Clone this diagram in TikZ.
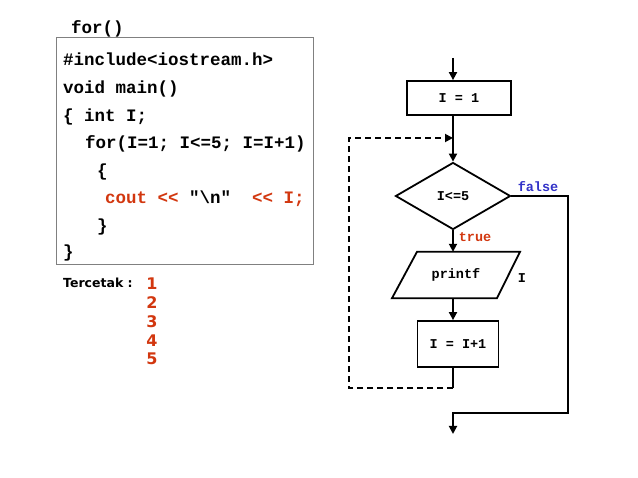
\documentclass[tikz,border=0pt]{standalone}
\usepackage{fontspec}
\setmonofont{Liberation Mono}
\newfontfamily\comicfont{DejaVu Sans}
\usetikzlibrary{shapes.geometric,arrows.meta}
\definecolor{codered}{RGB}{210,55,15}
\definecolor{codeblue}{RGB}{50,50,200}
\tikzset{
  codeline/.style={anchor=base west, inner sep=0pt, font=\ttfamily\bfseries\fontsize{17.5}{20}\selectfont},
  flowtext/.style={font=\ttfamily\bfseries\fontsize{13.5}{16}\selectfont},
  flowbox/.style={flowtext, draw, line width=1.8pt, inner sep=0pt},
  flowline/.style={line width=1.8pt},
  flowarrow/.style={flowline, -{Triangle[length=8pt,width=8pt]}},
  loopline/.style={flowline, dash pattern=on 6pt off 4pt},
  outnum/.style={color=codered, font=\comicfont\bfseries\fontsize{16}{18}\selectfont, inner sep=0pt}
}
\begin{document}
\begin{tikzpicture}[x=1pt,y=-1pt]
			%%%%% START %%%%%
			\useasboundingbox (0,0) rectangle (638,478);

			% program text
			\node[codeline] (title) at (71,34) {for()};
			\draw[line width=1pt, color=black!50] (56,38) rectangle (313,265);
			\node[codeline] (inc) at (63,66) {\#include<iostream.h>};
			\node[codeline] (mainfn) at (63,94) {void main()};
			\node[codeline] (decl) at (63,122) {\{ int I;};
			\node[codeline] (forln) at (85,149) {for(I=1; I<=5; I=I+1)};
			\node[codeline] (open) at (97,177) {\{};
			\node[codeline] (cout) at (105,204) {\textcolor{codered}{cout <<} "\textbackslash n"~~\textcolor{codered}{<< I;}};
			\node[codeline] (close) at (97,232) {\}};
			\node[codeline] (endmain) at (63,258) {\}};

			% output
			\node[anchor=west, inner sep=0pt, font=\comicfont\bfseries\fontsize{12.5}{14}\selectfont] (printed) at (63,283) {Tercetak :};
			\node[outnum] (out1) at (152,284) {1};
			\node[outnum] (out2) at (152,303) {2};
			\node[outnum] (out3) at (152,322) {3};
			\node[outnum] (out4) at (152,341) {4};
			\node[outnum] (out5) at (152,359) {5};

			% flowchart
			\coordinate (start) at (453,58);
			\node[flowbox, minimum width=104, minimum height=34] (init) at (459,98) {I = 1};
			\node[flowbox, diamond, aspect=1.7, minimum width=115, minimum height=67] (cond) at (453,196) {I<=5};
			\node[flowtext, inner sep=0pt, minimum width=104, minimum height=46] (show) at (456,275) {printf};
			\draw[flowline, line join=miter] ([xshift=-39]show.north) -- ([xshift=64]show.north)
			      -- ([xshift=41]show.south) -- ([xshift=-64]show.south) -- cycle;
			\node[flowbox, minimum width=81, minimum height=46] (incr) at (458,344) {I = I+1};
			\node[flowtext, color=codeblue] (nolabel) at (538,187) {false};
			\node[flowtext, color=codered] (yeslabel) at (475,237) {true};
			\node[flowtext] (showvar) at (522,278) {I};

			\coordinate (looptop) at (349,138);
			\coordinate (loopbot) at (349,388);
			\coordinate (exitr) at (568,413);
			\coordinate (stop) at (453,434);

			\draw[flowarrow] (start) -- (start |- init.north);
			\draw[flowarrow] (start |- init.south) -- (cond.north);
			\draw[flowarrow] (cond.south) -- (cond.south |- show.north);
			\draw[flowarrow] (cond |- show.south) -- (cond |- incr.north);
			\draw[flowline] (cond |- incr.south) -- (cond |- loopbot);
			\draw[loopline, -{Triangle[length=8pt,width=8pt]}] (cond |- loopbot) -- (loopbot) -- (looptop) -- (cond |- looptop);
			\draw[flowarrow] (cond.east) -| (exitr) -- (stop |- exitr) -- (stop);

			%%%%% END %%%%%
		\end{tikzpicture}
\end{document}
